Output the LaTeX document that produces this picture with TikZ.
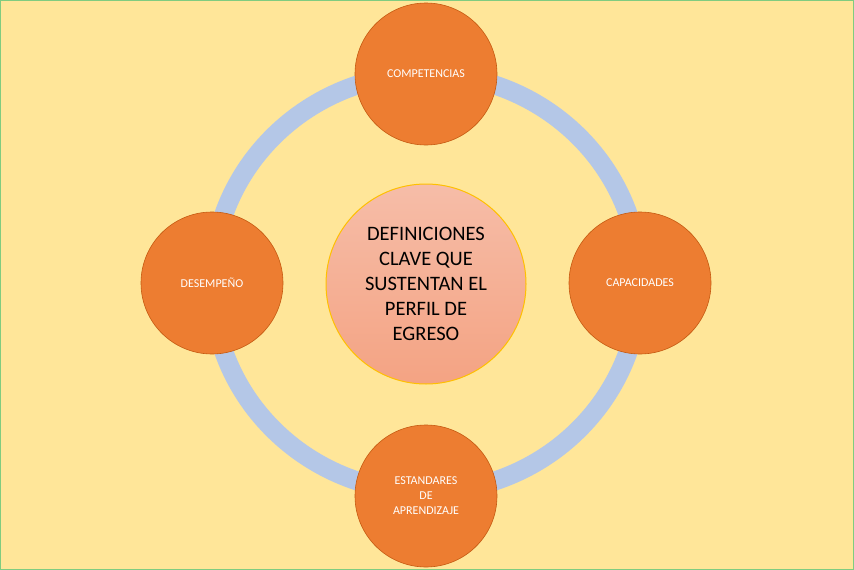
\documentclass[tikz,border=0pt]{standalone}
\usepackage{fontspec}
\setmainfont{Carlito}
\definecolor{bg}{HTML}{FFE699}
\definecolor{ring}{HTML}{B4C7E7}
\definecolor{orng}{HTML}{ED7D31}
\definecolor{orngd}{HTML}{C55A11}
\definecolor{salmt}{HTML}{F6BDA8}
\definecolor{salmb}{HTML}{F4A383}
\definecolor{gold}{HTML}{FFC000}
\begin{document}
\begin{tikzpicture}[x=1pt,y=-1pt,
  outer/.style={circle,fill=orng,draw=orngd,line width=0.6pt,minimum size=142pt,inner sep=0pt,text=white,font=\fontsize{12}{15}\selectfont,align=center},
  centre/.style={circle,draw=gold,line width=1pt,top color=salmt,bottom color=salmb,minimum size=200pt,inner sep=0pt,font=\fontsize{20.5}{25}\selectfont,align=center}]
\fill[bg,draw=green!60!black!50] (0.5,0.5) rectangle (853.5,569.5);
\useasboundingbox (0,0) rectangle (854,570);
\coordinate (o) at (426,283);
\draw[ring,line width=19pt] (o) ellipse [x radius=214, y radius=209];
\node[centre] (c) at (426,284) {DEFINICIONES\\CLAVE QUE\\SUSTENTAN EL\\PERFIL DE\\EGRESO};
\node[outer] (t) at (426,74) {COMPETENCIAS};
\node[outer] (r) at (640,283) {CAPACIDADES};
\node[outer] (b) at (426,496) {ESTANDARES\\DE\\APRENDIZAJE};
\node[outer] (l) at (212,283) {DESEMPEÑO};
\end{tikzpicture}
\end{document}
